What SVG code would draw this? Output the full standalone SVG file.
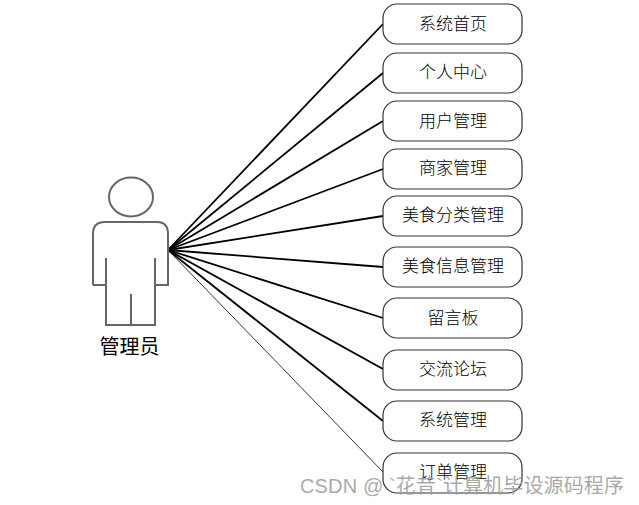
<svg xmlns="http://www.w3.org/2000/svg" width="639" height="505" viewBox="0 0 639 505">
<style>
.n{fill:#fff;stroke:#333;stroke-width:1.2}
.t{font-family:"Noto Sans CJK SC","Liberation Sans",sans-serif;font-size:17px;font-weight:300;fill:#000;text-anchor:middle}
.c{stroke:#000;stroke-width:1.8;fill:none}
.a{fill:none;stroke:#666;stroke-width:2}
.w{font-family:"Liberation Sans","Noto Sans CJK SC",sans-serif;font-size:20px;fill:#999;fill-opacity:.85}
</style>
<rect width="639" height="505" fill="#fff"/>
<g id="connectors">
<path class="c" d="M168 250L383 24"/>
<path class="c" d="M168 250L383 73"/>
<path class="c" d="M168 250L383 121"/>
<path class="c" d="M168 250L383 169"/>
<path class="c" d="M168 250L383 216"/>
<path class="c" d="M168 250L383 267"/>
<path class="c" d="M168 250L383 318"/>
<path class="c" d="M168 250L383 369"/>
<path class="c" d="M168 250L383 421"/>
<path class="c" d="M168 250L383 472" style="stroke-width:.8"/>
</g>
<g id="actor">
<ellipse class="a" cx="131" cy="197" rx="22" ry="19.500"/>
<path class="a" d="M93 285V234Q93 222 105 222H157Q168 222 168 234V285H155M93 285H106M106 258V325H155V258M131 294V325"/>
<text x="129.500" y="354" class="t" style="font-size:20px;font-weight:400">管理员</text>
</g>
<g id="n1"><rect class="n" x="383" y="4" width="139" height="40" rx="14"/><text class="t" x="453" y="30">系统首页</text></g>
<g id="n2"><rect class="n" x="383" y="53" width="139" height="40" rx="14"/><text class="t" x="453" y="78">个人中心</text></g>
<g id="n3"><rect class="n" x="383" y="101" width="139" height="40" rx="14"/><text class="t" x="453" y="127">用户管理</text></g>
<g id="n4"><rect class="n" x="383" y="149" width="139" height="40" rx="14"/><text class="t" x="453" y="174">商家管理</text></g>
<g id="n5"><rect class="n" x="383" y="196" width="139" height="40" rx="14"/><text class="t" x="453" y="221">美食分类管理</text></g>
<g id="n6"><rect class="n" x="383" y="247" width="139" height="40" rx="14"/><text class="t" x="453" y="272">美食信息管理</text></g>
<g id="n7"><rect class="n" x="383" y="298" width="139" height="40" rx="14"/><text class="t" x="453" y="324">留言板</text></g>
<g id="n8"><rect class="n" x="383" y="350" width="139" height="40" rx="14"/><text class="t" x="453" y="375">交流论坛</text></g>
<g id="n9"><rect class="n" x="383" y="401" width="139" height="40" rx="14"/><text class="t" x="453" y="426">系统管理</text></g>
<g id="n10"><rect class="n" x="383" y="453" width="139" height="40" rx="14"/><text class="t" x="453" y="478">订单管理</text></g>
<text class="w" x="300" y="493" textLength="324" lengthAdjust="spacing">CSDN @ `花昔`计算机毕设源码程序</text>
</svg>
